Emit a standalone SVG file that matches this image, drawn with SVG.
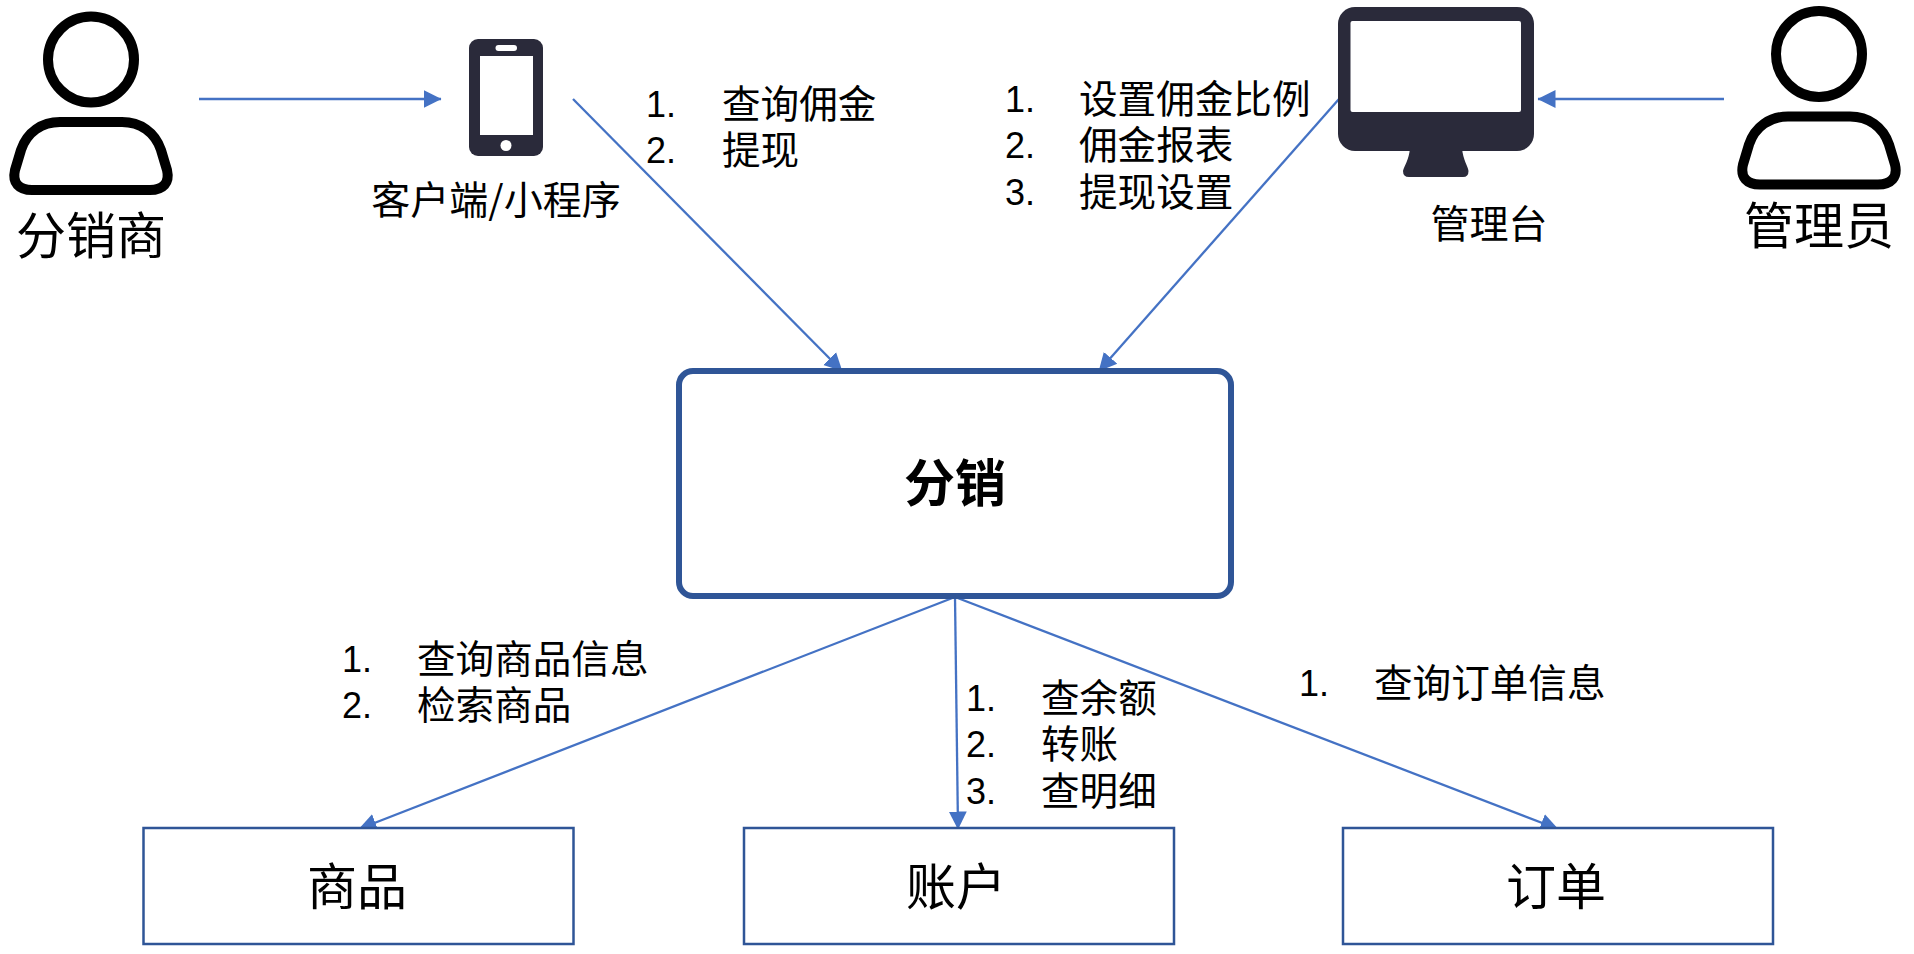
<svg xmlns="http://www.w3.org/2000/svg" xmlns:xlink="http://www.w3.org/1999/xlink" width="1914" height="954" viewBox="0 0 1914 954">
<style>
text{font-family:"Noto Sans CJK SC","Noto Sans",sans-serif;fill:#000}
.l{font-size:38.6px}
.n{font-family:"Liberation Sans",sans-serif;font-size:36px}
.xl{font-size:50px;text-anchor:middle}
.m{font-size:39px;text-anchor:middle}
.b{font-size:51px;font-weight:700;text-anchor:middle}
.c{stroke:#4472C4;stroke-width:2.3;fill:none;marker-end:url(#a)}
.box{fill:#fff;stroke:#2F5597;stroke-width:2.5}
.dark{fill:#2A2A3A}
</style>
<defs>
<marker id="a" markerUnits="userSpaceOnUse" markerWidth="20" markerHeight="20" refX="17.500" refY="10" orient="auto"><path d="M0 1L18 10L0 19Z" fill="#4472C4"/></marker>
<g id="person" fill="none" stroke="#000" stroke-width="10">
<circle cx="91" cy="59.5" r="43"/>
<path d="M32 190H150C163 190 170 183 167 170L161 150C155 132 140 122 122 122H60C42 122 27 132 21 150L15 170C12 183 19 190 32 190Z"/>
</g>
</defs>
<rect width="1914" height="954" fill="#fff"/>
<g id="connectors">
<line class="c" x1="199" y1="99" x2="441" y2="99"/>
<line class="c" x1="1724" y1="99" x2="1538" y2="99"/>
<line class="c" x1="573" y1="99" x2="842" y2="371"/>
<line class="c" x1="1339" y1="99" x2="1099" y2="371"/>
<line class="c" x1="955" y1="597" x2="359" y2="829"/>
<line class="c" x1="955" y1="597" x2="958" y2="829"/>
<line class="c" x1="955" y1="597" x2="1558" y2="829"/>
</g>
<g id="distributor"><use href="#person"/><text class="xl" x="91" y="254">分销商</text></g>
<g id="client">
<rect class="dark" x="469" y="39" width="74" height="117" rx="9"/>
<rect x="480" y="56" width="53" height="79" fill="#fff"/>
<rect x="495.5" y="45" width="21.5" height="6" rx="3" fill="#fff"/>
<circle cx="506" cy="145.500" r="5.500" fill="#fff"/>
<text class="m" x="496" y="214">客户端/小程序</text>
</g>
<g id="console">
<path class="dark" d="M1410 148H1462C1463 160 1468 166 1468.500 171Q1468.500 177 1463 177H1409Q1403 177 1403 171C1404 166 1409 160 1410 148Z"/>
<rect class="dark" x="1338" y="7" width="196" height="144" rx="17"/>
<rect x="1350.500" y="21" width="170.500" height="91" rx="2" fill="#fff"/>
<text class="m" x="1489" y="238">管理台</text>
</g>
<g id="admin"><use href="#person" transform="translate(1728 -5.500)"/><text class="xl" x="1819" y="244">管理员</text></g>
<g id="core"><rect x="679" y="371" width="552" height="225" rx="14" fill="#fff" stroke="#2F5597" stroke-width="6"/><text class="b" x="955" y="502">分销</text></g>
<g id="goods"><rect class="box" x="143.500" y="828" width="430" height="116"/><text class="xl" x="357" y="905">商品</text></g>
<g id="account"><rect class="box" x="744" y="828" width="430" height="116"/><text class="xl" x="956" y="905">账户</text></g>
<g id="order"><rect class="box" x="1343" y="828" width="430" height="116"/><text class="xl" x="1556" y="905">订单</text></g>
<g id="client-notes">
<text class="n" x="646" y="117">1.</text><text class="l" x="722" y="118">查询佣金</text>
<text class="n" x="646" y="163">2.</text><text class="l" x="722" y="164">提现</text>
</g>
<g id="console-notes">
<text class="n" x="1005" y="112">1.</text><text class="l" x="1079" y="113">设置佣金比例</text>
<text class="n" x="1005" y="158">2.</text><text class="l" x="1079" y="159">佣金报表</text>
<text class="n" x="1005" y="205">3.</text><text class="l" x="1079" y="206">提现设置</text>
</g>
<g id="goods-notes">
<text class="n" x="342" y="672">1.</text><text class="l" x="417" y="673">查询商品信息</text>
<text class="n" x="342" y="718">2.</text><text class="l" x="417" y="719">检索商品</text>
</g>
<g id="account-notes">
<text class="n" x="966" y="711">1.</text><text class="l" x="1041" y="712">查余额</text>
<text class="n" x="966" y="757">2.</text><text class="l" x="1041" y="758">转账</text>
<text class="n" x="966" y="804">3.</text><text class="l" x="1041" y="805">查明细</text>
</g>
<g id="order-notes">
<text class="n" x="1299" y="696">1.</text><text class="l" x="1374" y="697">查询订单信息</text>
</g>
</svg>
